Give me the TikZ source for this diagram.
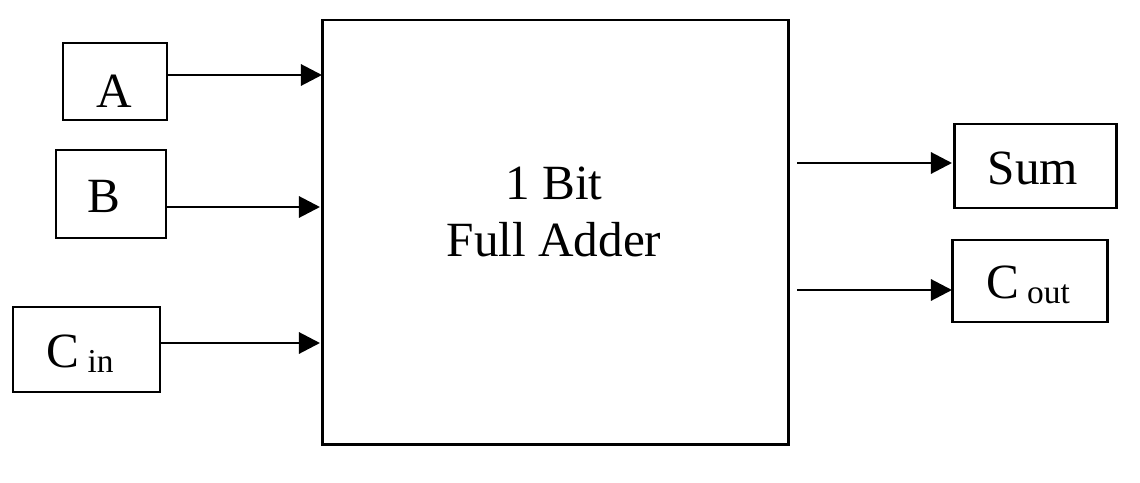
\documentclass[tikz,border=0pt]{standalone}
\usepackage{fontspec}
\setmainfont{Liberation Serif}
\usetikzlibrary{arrows.meta}
\begin{document}
\begin{tikzpicture}[x=0.01cm,y=-0.01cm,
  blk/.style={draw,line width=0.85pt,inner sep=0pt},
  lbl/.style={font=\fontsize{14}{17}\selectfont},
  arr/.style={line width=0.85pt,-{Triangle[length=6pt,width=6pt]}}]
\useasboundingbox (0,0) rectangle (1140,482);
\draw[blk] (63,43) rectangle (167,120);
\node[lbl] (A) at (114,91) {A};
\coordinate (Ae) at (167,75);
\draw[blk] (56,150) rectangle (166,238);
\node[lbl] (B) at (104,196) {B};
\coordinate (Be) at (166,207);
\draw[blk] (13,307) rectangle (160,392);
\node[lbl] (C) at (80,354) {C\,{\fontsize{9.5}{11}\selectfont\raisebox{-0.35ex}{in}}};
\coordinate (Ce) at (160,343);
\draw[blk] (322,20) rectangle (788,444);
\node[lbl,align=center] (FA) at (554,212) {1 Bit\\[-1pt]Full Adder};
\coordinate (Ai) at (322,75);
\coordinate (Bi) at (320,207);
\coordinate (Ci) at (320,343);
\draw[blk] (954,124) rectangle (1116,208);
\node[lbl] (S) at (1033,168) {Sum};
\draw[blk] (952,240) rectangle (1107,322);
\node[lbl] (Co) at (1028,285) {C\,{\fontsize{9.5}{11}\selectfont\raisebox{-0.35ex}{out}}};
\coordinate (So) at (797,163);
\coordinate (Si) at (952,163);
\coordinate (Coo) at (797,290);
\coordinate (Coi) at (952,290);
\draw[arr] (Ae) -- (Ai);
\draw[arr] (Be) -- (Bi);
\draw[arr] (Ce) -- (Ci);
\draw[arr] (So) -- (Si);
\draw[arr] (Coo) -- (Coi);
\end{tikzpicture}
\end{document}
